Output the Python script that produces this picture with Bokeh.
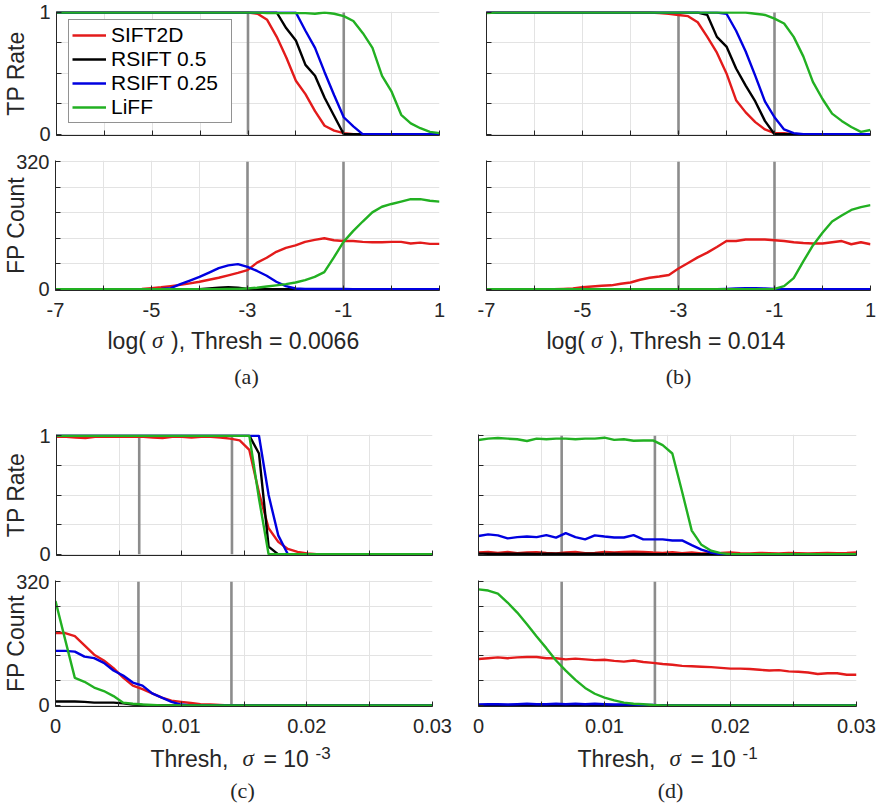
from bokeh.plotting import figure
from bokeh.models import Range1d, FixedTicker, Label, Legend, LegendItem
from bokeh.layouts import row, column
from bokeh.embed import file_html
from bokeh.resources import INLINE

# ---------------- data ----------------
SERIES = ["SIFT2D", "RSIFT 0.5", "RSIFT 0.25", "LiFF"]
COLORS = ["#e31b1b", "#000000", "#0000e0", "#22b022"]

log_sigma = [round(-7 + 0.2 * i, 1) for i in range(41)]
thresh = [0.03 * k / 39 for k in range(40)]

# (a) Thresh = 0.0066, x = log(sigma)
a_tp_sift = [1.0] * 20 + [1.0, 0.99, 0.94, 0.80, 0.63, 0.44, 0.33, 0.19, 0.07, 0.03, 0.01] + [0.0] * 10
a_tp_r05 = [1.0] * 24 + [0.87, 0.77, 0.57, 0.48, 0.30, 0.15, 0.0] + [0.0] * 10
a_tp_r025 = [1.0] * 26 + [0.85, 0.71, 0.51, 0.32, 0.14, 0.065, 0.0] + [0.0] * 8
a_tp_liff = [1.0] * 22 + [0.995, 0.995, 0.995, 0.995, 0.995, 0.99, 1.0, 0.99] + \
            [0.97, 0.93, 0.83, 0.71, 0.48, 0.35, 0.16, 0.09, 0.05, 0.02, 0.01]

a_fp_sift = [0] * 8 + [0.5, 1, 3, 5, 8, 11, 15, 19, 24, 29, 35, 41, 48,
                       67, 79, 94, 104, 110, 119, 124, 128, 123, 121,
                       121, 119, 118, 118, 119, 119, 115, 117, 114, 114]
a_fp_r05 = [0] * 16 + [2, 4, 5, 4, 1] + [0] * 20
a_fp_r025 = [0] * 11 + [1, 3, 13, 22, 31, 42, 53, 60, 63, 56, 46, 34, 19, 8, 2, 1, 1, 1, 1, 1] + [0] * 10
a_fp_liff = [0] * 18 + [1, 1, 2, 4, 7, 10, 13, 17, 23, 31,
                        43, 80, 119, 146, 170, 193, 207, 214, 220, 226,
                        226, 222, 220]

# (b) Thresh = 0.014, x = log(sigma)
b_tp_sift = [1.0] * 18 + [0.995, 0.99, 0.98, 0.97, 0.92, 0.80, 0.67, 0.50, 0.28, 0.18, 0.10, 0.04, 0.01, 0.01] + [0.0] * 9
b_tp_r05 = [1.0] * 23 + [0.98, 0.80, 0.72, 0.54, 0.40, 0.27, 0.11, 0.0] + [0.0] * 10
b_tp_r025 = [1.0] * 25 + [0.99, 0.85, 0.68, 0.48, 0.27, 0.14, 0.04, 0.01] + [0.0] * 8
b_tp_liff = [0.995] + [1.0] * 27 + [0.99, 0.98, 0.95, 0.91, 0.80, 0.64, 0.43, 0.29, 0.17, 0.11, 0.06, 0.02, 0.035]

b_fp_sift = [0] * 8 + [1, 2, 5, 7, 9, 10, 14, 17, 24, 29,
                       32, 36, 52, 66, 80, 92, 106, 121, 121, 125,
                       125, 125, 123, 121, 118, 116, 115, 115, 118, 121,
                       113, 118, 113]
b_fp_r05 = [0] * 41
b_fp_r025 = [0] * 25 + [1, 2, 3, 3, 2, 1] + [0] * 10
b_fp_liff = [0] * 30 + [1, 8, 28, 70, 110, 142, 170, 185, 199, 206, 211]

# (c) sigma = 1e-3, x = threshold
c_tp_sift = [0.99, 0.99, 0.985, 0.98, 0.99, 0.99, 0.99, 0.99, 0.99, 0.99,
             0.985, 0.98, 0.99, 0.99, 0.985, 0.99, 0.99, 0.985, 0.975, 0.96,
             0.88, 0.52, 0.22, 0.105, 0.045, 0.02, 0.008] + [0.0] * 13
c_tp_r05 = [1.0] * 21 + [0.85, 0.065] + [0.0] * 17
c_tp_r025 = [1.0] * 22 + [0.50, 0.16] + [0.0] * 16
c_tp_liff = [1.0] * 21 + [0.47] + [0.0] * 18

c_fp_sift = [187, 187, 179, 155, 131, 116, 96, 72, 51, 42, 31, 20, 12, 9, 6, 3, 2, 1] + [0] * 22
c_fp_r05 = [10, 10, 10, 9, 7, 7, 7, 5, 2, 1] + [0] * 30
c_fp_r025 = [141, 141, 139, 126, 122, 110, 90, 77, 59, 51, 31, 20, 9, 2] + [0] * 26
c_fp_liff = [270, 170, 71, 61, 46, 37, 24, 7, 4, 2, 1] + [0] * 29

# (d) sigma = 1e-1, x = threshold
d_tp_sift = [0.015, 0.02, 0.012, 0.02, 0.01, 0.015, 0.018, 0.012, 0.008, 0.015,
             0.02, 0.01, 0.012, 0.02, 0.015, 0.02, 0.022, 0.02, 0.015, 0.012,
             0.018, 0.01, 0.015, 0.008, 0.01, 0.012, 0.015, 0.01, 0.008, 0.012,
             0.01, 0.008, 0.012, 0.01, 0.008, 0.01, 0.012, 0.01, 0.012, 0.015]
d_tp_r05 = [0.006, 0.005, 0.004, 0.005, 0.006, 0.005, 0.004, 0.006, 0.005, 0.006,
            0.004, 0.005, 0.005, 0.004, 0.005, 0.004, 0.003, 0.003, 0.002, 0.002, 0.001] + [0.0] * 19
d_tp_r025 = [0.154, 0.168, 0.16, 0.134, 0.145, 0.15, 0.145, 0.162, 0.14, 0.179,
             0.145, 0.126, 0.16, 0.15, 0.142, 0.142, 0.162, 0.126, 0.126, 0.126,
             0.117, 0.117, 0.078, 0.04, 0.014] + [0.0] * 15
d_tp_liff = [0.964, 0.975, 0.98, 0.975, 0.97, 0.955, 0.975, 0.97, 0.975, 0.975,
             0.97, 0.975, 0.975, 0.983, 0.965, 0.97, 0.957, 0.96, 0.96, 0.92,
             0.85, 0.53, 0.20, 0.08, 0.03, 0.01] + [0.0] * 14

d_fp_sift = [120, 122, 124, 122, 124, 125, 125, 122, 122, 119,
             121, 119, 117, 118, 115, 113, 116, 112, 110, 107,
             105, 102, 101, 100, 99, 97, 95, 95, 94, 92,
             90, 91, 88, 87, 85, 81, 83, 83, 79, 79]
d_fp_r05 = [0] * 40
d_fp_r025 = [2, 3, 3, 2, 3, 4, 3, 3, 4, 3, 4, 3, 4, 3, 2, 2, 2, 1, 1] + [0] * 21
d_fp_liff = [300, 297, 289, 266, 240, 210, 178, 148, 116, 90, 66, 45, 30, 20, 13, 7, 4, 3, 1] + [0] * 21

# ticks
LOG_TICKS = [-7, -6, -5, -4, -3, -2, -1, 0, 1]
LOG_LABELS = ["-7", "", "-5", "", "-3", "", "-1", "", "1"]
TH_TICKS = [0, 0.005, 0.01, 0.015, 0.02, 0.025, 0.03]
TH_LABELS = ["0", "", "0.01", "", "0.02", "", "0.03"]
TP_TICKS = [0, 0.25, 0.5, 0.75, 1]
TP_LABELS = ["0", "", "", "", "1"]
FP_TICKS = [0, 64, 128, 192, 256, 320]
FP_LABELS = ["0", "", "", "", "", "320"]

VLINES_LOG = [-3, -1]
VLINES_TH = [0.0066, 0.014]

# ---------------- styling ----------------
FONT = "Liberation Sans"
SERIF = "Liberation Serif"
TXT = "#262626"
AXC = "#262626"
GRID = "#e3e3e3"
GRAY = "#8c8c8c"


def panel(x, ys, xr, yr, xt, xl, yt, yl, vl, vtop, W, H, bl, br, bt, bb,
          show_x, show_y, ylab=None, ylab_standoff=0):
    p = figure(width=W, height=H, x_range=Range1d(*xr), y_range=Range1d(*yr),
               toolbar_location=None, output_backend="svg",
               min_border_left=bl, min_border_right=br, min_border_top=bt, min_border_bottom=bb,
               outline_line_color=None, background_fill_color="white", border_fill_color="white")
    for ax, t, l, show in ((p.xaxis[0], xt, xl, show_x), (p.yaxis[0], yt, yl, show_y)):
        ax.ticker = FixedTicker(ticks=t)
        ax.major_label_overrides = {tv: (lv if show else "") for tv, lv in zip(t, l)}
        ax.major_tick_in = 5
        ax.major_tick_out = 0
        ax.minor_tick_line_color = None
        ax.axis_line_color = AXC
        ax.axis_line_width = 1
        ax.major_tick_line_color = AXC
        ax.major_label_text_font = FONT
        ax.major_label_text_color = TXT
        if show:
            ax.major_label_text_font_size = "20px"
        else:
            ax.major_label_text_font_size = "0px"
    p.xaxis[0].major_label_standoff = 12 if show_x else 0
    p.yaxis[0].major_label_standoff = 6 if show_y else 0
    if ylab:
        ya = p.yaxis[0]
        ya.axis_label = ylab
        ya.axis_label_text_font = FONT
        ya.axis_label_text_font_size = "23px"
        ya.axis_label_text_font_style = "normal"
        ya.axis_label_text_color = TXT
        ya.axis_label_standoff = ylab_standoff
    p.xgrid.grid_line_color = GRID
    p.ygrid.grid_line_color = GRID
    p.segment(x0=vl, y0=[0] * len(vl), x1=vl, y1=[vtop] * len(vl),
              line_color=GRAY, line_width=2.6)
    rs = [p.line(x, y, line_color=c, line_width=2.4) for y, c in zip(ys, COLORS)]
    return p, rs


def text_fig(W, H):
    t = figure(width=W, height=H, x_range=Range1d(0, W), y_range=Range1d(0, H),
               x_axis_type=None, y_axis_type=None, toolbar_location=None,
               output_backend="svg", min_border=0, min_border_left=0, min_border_right=0,
               min_border_top=0, min_border_bottom=0, outline_line_color=None,
               background_fill_color="white", border_fill_color="white")
    return t


def lab(p, x, y, text, font=FONT, size="23px", style="normal", align="left"):
    p.add_layout(Label(x=x, y=y, x_units="screen", y_units="screen", text=text,
                       text_align=align, text_baseline="middle", text_font=font,
                       text_font_size=size, text_font_style=style, text_color=TXT))


def xlabel_log(t, L0, y, thr):
    lab(t, L0, y, "log(")
    lab(t, L0 + 44.5, y, "\u03c3", font=SERIF, style="italic")
    lab(t, L0 + 63.5, y, "), Thresh = " + thr)


def xlabel_th(t, L0, y, exp):
    lab(t, L0, y, "Thresh,")
    lab(t, L0 + 92, y, "\u03c3", font=SERIF, style="italic")
    lab(t, L0 + 113, y, "= 10")
    lab(t, L0 + 165, y + 6, exp, size="17px")


def caption(t, cx, y, text):
    lab(t, cx, y, text, font=SERIF, size="22px", align="center")


# ---------------- panels ----------------
TOP1 = (-0.00985, 1.0082)
FPR = (-3, 323)
TOP3 = (-0.01, 1.01)

# row 1 (TP rate, a/b)
a1, ra = panel(log_sigma, [a_tp_sift, a_tp_r05, a_tp_r025, a_tp_liff], (-7, 1), TOP1,
               LOG_TICKS, LOG_LABELS, TP_TICKS, TP_LABELS, VLINES_LOG, 1,
               452, 147, 52, 13, 11, 12, False, True, "TP Rate", 7)
legend = Legend(items=[LegendItem(label=n, renderers=[r]) for n, r in zip(SERIES, ra)],
                location=(12, 12), margin=0, padding=3, spacing=0,
                glyph_width=34, glyph_height=20, label_height=20, label_width=117,
                label_standoff=5, label_text_font=FONT, label_text_font_size="21px",
                label_text_color="#000000", border_line_color=AXC, border_line_width=1,
                background_fill_color="white", background_fill_alpha=1.0)
a1.add_layout(legend)

b1, _ = panel(log_sigma, [b_tp_sift, b_tp_r05, b_tp_r025, b_tp_liff], (-7, 1), TOP1,
              LOG_TICKS, LOG_LABELS, TP_TICKS, TP_LABELS, VLINES_LOG, 1,
              425, 147, 34, 7, 11, 12, False, False)

# row 2 (FP count, a/b)
a2, _ = panel(log_sigma, [a_fp_sift, a_fp_r05, a_fp_r025, a_fp_liff], (-7, 1), FPR,
              LOG_TICKS, LOG_LABELS, FP_TICKS, FP_LABELS, VLINES_LOG, 320,
              452, 175, 52, 13, 13, 32, True, True, "FP Count", -16)
b2, _ = panel(log_sigma, [b_fp_sift, b_fp_r05, b_fp_r025, b_fp_liff], (-7, 1), FPR,
              LOG_TICKS, LOG_LABELS, FP_TICKS, FP_LABELS, VLINES_LOG, 320,
              425, 175, 34, 7, 13, 32, True, False)

# text row under (a)/(b)
ta = text_fig(452, 98)
xlabel_log(ta, 107, 80, "0.0066")
caption(ta, 246, 44, "(a)")
tb = text_fig(425, 98)
xlabel_log(tb, 546 - 452, 80, "0.014")
caption(tb, 678 - 452, 44, "(b)")

# row 3 (TP rate, c/d)
c1, _ = panel(thresh, [c_tp_sift, c_tp_r05, c_tp_r025, c_tp_liff], (0, 0.03), TOP3,
              TH_TICKS, TH_LABELS, TP_TICKS, TP_LABELS, VLINES_TH, 1,
              452, 147, 52, 20, 14, 12, False, True, "TP Rate", 7)
d1, _ = panel(thresh, [d_tp_sift, d_tp_r05, d_tp_r025, d_tp_liff], (0, 0.03), TOP3,
              TH_TICKS, TH_LABELS, TP_TICKS, TP_LABELS, VLINES_TH, 1,
              425, 147, 26, 21, 14, 12, False, False)

# row 4 (FP count, c/d)
c2, _ = panel(thresh, [c_fp_sift, c_fp_r05, c_fp_r025, c_fp_liff], (0, 0.03), FPR,
              TH_TICKS, TH_LABELS, FP_TICKS, FP_LABELS, VLINES_TH, 320,
              452, 171, 52, 20, 13, 32, True, True, "FP Count", -16)
d2, _ = panel(thresh, [d_fp_sift, d_fp_r05, d_fp_r025, d_fp_liff], (0, 0.03), FPR,
              TH_TICKS, TH_LABELS, FP_TICKS, FP_LABELS, VLINES_TH, 320,
              425, 171, 26, 21, 13, 32, True, False)

# text row under (c)/(d)
tc = text_fig(452, 68)
xlabel_th(tc, 150, 48, "-3")
caption(tc, 242, 16, "(c)")
td = text_fig(425, 68)
xlabel_th(td, 577 - 452, 48, "-1")
caption(td, 670 - 452, 16, "(d)")

layout = column(row(a1, b1), row(a2, b2), row(ta, tb),
                row(c1, d1), row(c2, d2), row(tc, td))

open("out.html", "w").write(file_html(layout, INLINE))
